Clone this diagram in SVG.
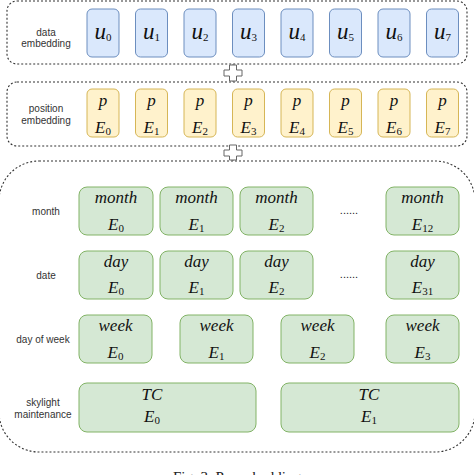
<svg xmlns="http://www.w3.org/2000/svg" width="474" height="475" viewBox="0 0 474 475">
<style>
.cont{fill:none;stroke:#333;stroke-width:1.1;stroke-dasharray:2 2}
.blue{fill:#dae8fc;stroke:#6c8ebf;stroke-width:1}
.yel{fill:#fff2cc;stroke:#d6b656;stroke-width:1}
.grn{fill:#d5e8d4;stroke:#82b366;stroke-width:1}
.lbl{font-family:"Liberation Sans",Arial,sans-serif;font-size:10px;fill:#333;text-anchor:middle}
.m{font-family:"Liberation Serif","DejaVu Serif",serif;font-style:italic;fill:#111;text-anchor:middle}
.u{font-size:23px}
.p{font-size:17px}
.g{font-size:17px}
.sub{font-style:normal;font-size:11px}
.dots{font-family:"Liberation Sans",Arial,sans-serif;font-size:11px;fill:#222;text-anchor:middle}
.plus{fill:#fff;stroke:#666;stroke-width:1}
</style>
<g id="containers">
<rect id="c-data" class="cont" x="7" y="1" width="460" height="63" rx="10"/>
<rect id="c-pos" class="cont" x="7" y="82" width="460" height="64" rx="10"/>
<rect id="c-time" class="cont" x="-1" y="161" width="476" height="291" rx="40"/>
</g>
<g id="connectors">
<line x1="233" y1="64" x2="233" y2="82" stroke="#666" stroke-width="1"/>
<polygon class="plus" points="229.5,65 236.5,65 236.5,70 242,70 242,76 236.5,76 236.5,81 229.5,81 229.5,76 224,76 224,70 229.5,70"/>
<line x1="233" y1="146" x2="233" y2="161" stroke="#666" stroke-width="1"/>
<polygon class="plus" points="229.5,145 236.5,145 236.5,150 242,150 242,156 236.5,156 236.5,160 229.5,160 229.5,156 224,156 224,150 229.5,150"/>
</g>
<g id="labels">
<text class="lbl" x="46" y="36">data</text>
<text class="lbl" x="46" y="47">embedding</text>
<text class="lbl" x="46" y="112">position</text>
<text class="lbl" x="46" y="124">embedding</text>
<text class="lbl" x="46" y="215">month</text>
<text class="lbl" x="46" y="279">date</text>
<text class="lbl" x="43" y="343">day of week</text>
<text class="lbl" x="43" y="406">skylight</text>
<text class="lbl" x="43" y="418">maintenance</text>
</g>
<g id="data-row">
<g id="u0"><rect class="blue" x="87" y="9" width="32" height="48" rx="5"/><text class="m u" x="103" y="39">u<tspan class="sub" font-size="15" dy="2">0</tspan></text></g>
<g id="u1"><rect class="blue" x="135.5" y="9" width="32" height="48" rx="5"/><text class="m u" x="151.5" y="39">u<tspan class="sub" font-size="15" dy="2">1</tspan></text></g>
<g id="u2"><rect class="blue" x="184" y="9" width="32" height="48" rx="5"/><text class="m u" x="200" y="39">u<tspan class="sub" font-size="15" dy="2">2</tspan></text></g>
<g id="u3"><rect class="blue" x="232.5" y="9" width="32" height="48" rx="5"/><text class="m u" x="248.5" y="39">u<tspan class="sub" font-size="15" dy="2">3</tspan></text></g>
<g id="u4"><rect class="blue" x="281" y="9" width="32" height="48" rx="5"/><text class="m u" x="297" y="39">u<tspan class="sub" font-size="15" dy="2">4</tspan></text></g>
<g id="u5"><rect class="blue" x="329.5" y="9" width="32" height="48" rx="5"/><text class="m u" x="345.5" y="39">u<tspan class="sub" font-size="15" dy="2">5</tspan></text></g>
<g id="u6"><rect class="blue" x="378" y="9" width="32" height="48" rx="5"/><text class="m u" x="394" y="39">u<tspan class="sub" font-size="15" dy="2">6</tspan></text></g>
<g id="u7"><rect class="blue" x="426.5" y="9" width="32" height="48" rx="5"/><text class="m u" x="442.5" y="39">u<tspan class="sub" font-size="15" dy="2">7</tspan></text></g>
</g>
<g id="pos-row">
<g id="p0"><rect class="yel" x="87" y="89" width="32" height="48" rx="5"/><text class="m p" x="103" y="106">p</text><text class="m p" x="103" y="133">E<tspan class="sub" dy="2">0</tspan></text></g>
<g id="p1"><rect class="yel" x="135.5" y="89" width="32" height="48" rx="5"/><text class="m p" x="151.5" y="106">p</text><text class="m p" x="151.5" y="133">E<tspan class="sub" dy="2">1</tspan></text></g>
<g id="p2"><rect class="yel" x="184" y="89" width="32" height="48" rx="5"/><text class="m p" x="200" y="106">p</text><text class="m p" x="200" y="133">E<tspan class="sub" dy="2">2</tspan></text></g>
<g id="p3"><rect class="yel" x="232.5" y="89" width="32" height="48" rx="5"/><text class="m p" x="248.5" y="106">p</text><text class="m p" x="248.5" y="133">E<tspan class="sub" dy="2">3</tspan></text></g>
<g id="p4"><rect class="yel" x="281" y="89" width="32" height="48" rx="5"/><text class="m p" x="297" y="106">p</text><text class="m p" x="297" y="133">E<tspan class="sub" dy="2">4</tspan></text></g>
<g id="p5"><rect class="yel" x="329.5" y="89" width="32" height="48" rx="5"/><text class="m p" x="345.5" y="106">p</text><text class="m p" x="345.5" y="133">E<tspan class="sub" dy="2">5</tspan></text></g>
<g id="p6"><rect class="yel" x="378" y="89" width="32" height="48" rx="5"/><text class="m p" x="394" y="106">p</text><text class="m p" x="394" y="133">E<tspan class="sub" dy="2">6</tspan></text></g>
<g id="p7"><rect class="yel" x="426.5" y="89" width="32" height="48" rx="5"/><text class="m p" x="442.5" y="106">p</text><text class="m p" x="442.5" y="133">E<tspan class="sub" dy="2">7</tspan></text></g>
</g>
<g id="month-row">
<g id="m0"><rect class="grn" x="79" y="187" width="74" height="48" rx="8"/><text class="m g" x="116" y="203">month</text><text class="m g" x="116" y="230">E<tspan class="sub" dy="2">0</tspan></text></g>
<g id="m1"><rect class="grn" x="160" y="187" width="73" height="48" rx="8"/><text class="m g" x="196.5" y="203">month</text><text class="m g" x="196.5" y="230">E<tspan class="sub" dy="2">1</tspan></text></g>
<g id="m2"><rect class="grn" x="240" y="187" width="73" height="48" rx="8"/><text class="m g" x="276.5" y="203">month</text><text class="m g" x="276.5" y="230">E<tspan class="sub" dy="2">2</tspan></text></g>
<text class="dots" x="349" y="214">......</text>
<g id="m12"><rect class="grn" x="386" y="187" width="73" height="48" rx="8"/><text class="m g" x="422.5" y="203">month</text><text class="m g" x="422.5" y="230">E<tspan class="sub" dy="2">12</tspan></text></g>
</g>
<g id="date-row">
<g id="d0"><rect class="grn" x="79" y="251" width="74" height="48" rx="8"/><text class="m g" x="116" y="267">day</text><text class="m g" x="116" y="293">E<tspan class="sub" dy="2">0</tspan></text></g>
<g id="d1"><rect class="grn" x="160" y="251" width="73" height="48" rx="8"/><text class="m g" x="196.5" y="267">day</text><text class="m g" x="196.5" y="293">E<tspan class="sub" dy="2">1</tspan></text></g>
<g id="d2"><rect class="grn" x="240" y="251" width="73" height="48" rx="8"/><text class="m g" x="276.5" y="267">day</text><text class="m g" x="276.5" y="293">E<tspan class="sub" dy="2">2</tspan></text></g>
<text class="dots" x="349" y="278">......</text>
<g id="d31"><rect class="grn" x="386" y="251" width="73" height="48" rx="8"/><text class="m g" x="422.5" y="267">day</text><text class="m g" x="422.5" y="293">E<tspan class="sub" dy="2">31</tspan></text></g>
</g>
<g id="week-row">
<g id="w0"><rect class="grn" x="79" y="315" width="73" height="48" rx="8"/><text class="m g" x="115.5" y="331">week</text><text class="m g" x="115.5" y="358">E<tspan class="sub" dy="2">0</tspan></text></g>
<g id="w1"><rect class="grn" x="180" y="315" width="73" height="48" rx="8"/><text class="m g" x="216.5" y="331">week</text><text class="m g" x="216.5" y="358">E<tspan class="sub" dy="2">1</tspan></text></g>
<g id="w2"><rect class="grn" x="281" y="315" width="73" height="48" rx="8"/><text class="m g" x="317.5" y="331">week</text><text class="m g" x="317.5" y="358">E<tspan class="sub" dy="2">2</tspan></text></g>
<g id="w3"><rect class="grn" x="386" y="315" width="73" height="48" rx="8"/><text class="m g" x="422.5" y="331">week</text><text class="m g" x="422.5" y="358">E<tspan class="sub" dy="2">3</tspan></text></g>
</g>
<g id="tc-row">
<g id="tc0"><rect class="grn" x="79" y="383" width="177" height="49" rx="8"/><text class="m g" x="152" y="400">TC</text><text class="m g" x="152" y="422">E<tspan class="sub" dy="2">0</tspan></text></g>
<g id="tc1"><rect class="grn" x="281" y="383" width="178" height="49" rx="8"/><text class="m g" x="369" y="400">TC</text><text class="m g" x="369" y="422">E<tspan class="sub" dy="2">1</tspan></text></g>
</g>
<text x="237" y="482" font-family="Liberation Serif,serif" font-size="15" fill="#222" text-anchor="middle">Fig. 3. Pe embedding</text>
</svg>
